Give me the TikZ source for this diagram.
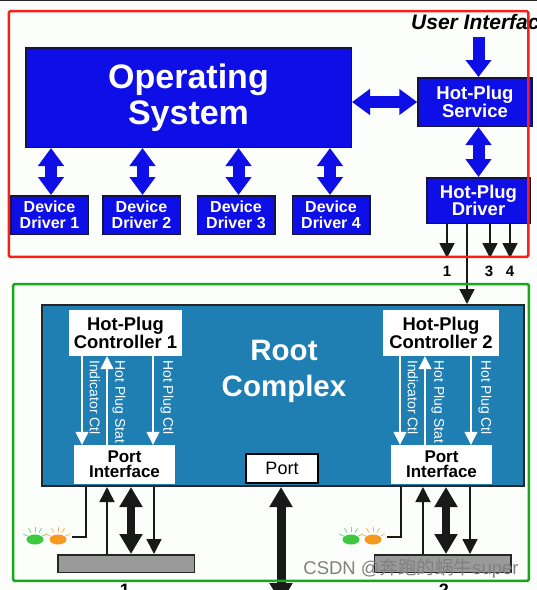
\documentclass[tikz,border=0pt]{standalone}
\usepackage{fontspec}
\setmainfont{Liberation Sans}
\newfontfamily\cjkwm{Noto Sans CJK SC}
\usepackage{xcolor}
\usetikzlibrary{positioning,arrows.meta,shapes.geometric}
\definecolor{osblue}{HTML}{0E0EE6}
\definecolor{rootblue}{HTML}{1F7FB3}
\definecolor{frameline}{HTML}{14143C}
\definecolor{slotgray}{HTML}{9A9A9A}
\definecolor{redframe}{HTML}{F5201A}
\definecolor{greenframe}{HTML}{16A81C}
\definecolor{ledgreen}{HTML}{3EC83E}
\definecolor{ledorange}{HTML}{F59A1E}
\definecolor{paper}{HTML}{FCFEFC}
\begin{document}
\begin{tikzpicture}[
    x=1pt, y=-1pt,
    bluebox/.style={rectangle, draw=frameline, line width=1.5pt, fill=osblue, text=white, align=center, inner sep=0pt, font=\fontsize{18.5}{17.5}\selectfont\bfseries},
    driver/.style={bluebox, minimum width=77.5pt, minimum height=38.5pt, font=\fontsize{16}{16}\selectfont\bfseries},
    whitebox/.style={rectangle, fill=white, text=black, align=center, inner sep=0pt, font=\fontsize{18.4}{17.5}\selectfont\bfseries},
    controller/.style={whitebox, minimum width=113pt, minimum height=46pt},
    portif/.style={whitebox, minimum width=101pt, minimum height=39pt, font=\fontsize{17}{15}\selectfont\bfseries},
    slot/.style={rectangle, draw=black!85, line width=1.5pt, fill=slotgray, minimum width=136.5pt, minimum height=17.5pt, inner sep=0pt},
    sidelabel/.style={rotate=-90, text=white, inner sep=0pt, font=\fontsize{14}{14}\selectfont},
    numlabel/.style={inner sep=0pt, font=\fontsize{15}{15}\selectfont\bfseries},
    led/.style={ellipse, minimum width=17pt, minimum height=10pt, inner sep=0pt},
    bigarrow/.style={{Triangle[length=18pt,width=25pt]}-{Triangle[length=18pt,width=25pt]}, draw=osblue, line width=12pt},
    wire/.style={-{Triangle[length=15pt,width=15pt]}, draw=black!90, line width=1.5pt},
    whitearrow/.style={-{Triangle[length=13pt,width=13pt]}, draw=white, line width=1.3pt},
    fatarrow/.style={{Triangle[length=20pt,width=22pt]}-{Triangle[length=20pt,width=22pt]}, draw=black!90, line width=8pt},
    frame/.style={rectangle, rounded corners=1.5pt, line width=2.5pt, fill=none}
]
    \useasboundingbox (0,0) rectangle (537,590);
    \clip (0,0) rectangle (537,590);
    \fill[paper] (0,0) rectangle (537,590);
    \fill[black!85] (0,0) rectangle (537,1);

    % upper part
    \node[bluebox, minimum width=325.5pt, minimum height=99.5pt, font=\fontsize{34}{36}\selectfont\bfseries] (os) at (188.5,97.5) {Operating\\System};
    \node[driver] (dd1) at (49.5,215) {Device\\Driver 1};
    \node[driver, right=13pt of dd1] (dd2) {Device\\Driver 2};
    \node[driver, right=15.5pt of dd2] (dd3) {Device\\Driver 3};
    \node[driver, right=16pt of dd3] (dd4) {Device\\Driver 4};
    \node[bluebox, minimum width=114pt, minimum height=48.5pt] (service) at (475,102) {Hot-Plug\\Service};
    \node[bluebox, minimum width=103.5pt, minimum height=45.5pt] (hpdriver) at (478.5,200.5) {Hot-Plug\\Driver};
    \node[inner sep=0pt, anchor=west, font=\fontsize{21}{21}\selectfont\bfseries\itshape] (user) at (411,22) {User Interface};

    \coordinate (uiarrow) at (478.5,37);
    \draw[bigarrow, -{Triangle[length=17pt,width=25pt]}] (uiarrow) -- (uiarrow |- service.north);
    \draw[bigarrow] (os.east |- service.west) -- (service.west);
    \draw[bigarrow] (uiarrow |- service.south) -- (uiarrow |- hpdriver.north);
    \draw[bigarrow] ([xshift=1.5pt]dd1.north) -- ([xshift=1.5pt]dd1.north |- os.south);
    \draw[bigarrow] ([xshift=1pt]dd2.north) -- ([xshift=1pt]dd2.north |- os.south);
    \draw[bigarrow] ([xshift=2.5pt]dd3.north) -- ([xshift=2.5pt]dd3.north |- os.south);
    \draw[bigarrow] ([xshift=-1pt]dd4.north) -- ([xshift=-1pt]dd4.north |- os.south);

    \node[numlabel] (n1) at (447,271) {1};
    \node[numlabel] (n3) at (489,271) {3};
    \node[numlabel] (n4) at (510,271) {4};
    \coordinate (end1) at (447,258);
    \coordinate (end3) at (490,258);
    \coordinate (end4) at (510,258);
    \draw[wire] (end1 |- hpdriver.south) -- (end1);
    \draw[wire] (end3 |- hpdriver.south) -- (end3);
    \draw[wire] (end4 |- hpdriver.south) -- (end4);

    % root complex
    \node[rectangle, draw=black!85, line width=2.2pt, fill=rootblue, minimum width=481.8pt, minimum height=180.8pt, inner sep=0pt] (root) at (283,395.5) {};
    \node[text=white, align=center, inner sep=0pt, font=\fontsize{29.5}{36}\selectfont\bfseries] (rootlabel) at (284,371) {Root\\Complex};
    \coordinate (tohp) at (467,224);
    \draw[wire] (tohp |- hpdriver.south) -- (tohp |- root.north);

    \node[controller] (hpc1) at (125.5,333) {Hot-Plug\\Controller 1};
    \node[controller, minimum width=116pt] (hpc2) at (441,333) {Hot-Plug\\Controller 2};
    \node[portif] (pi1) at (124.5,464.5) {Port\\Interface};
    \node[portif] (pi2) at (441.5,464.5) {Port\\Interface};
    \node[rectangle, draw=black, line width=2pt, fill=white, minimum width=72pt, minimum height=29pt, inner sep=0pt, font=\fontsize{18}{18}\selectfont] (port) at (282,468.5) {Port};

    \coordinate (ind1) at (82,400);
    \coordinate (stat1) at (107,400);
    \coordinate (ctl1) at (153,400);
    \coordinate (ind2) at (400,400);
    \coordinate (stat2) at (425,400);
    \coordinate (ctl2) at (471,400);
    \draw[whitearrow] (ind1 |- hpc1.south) -- (ind1 |- pi1.north);
    \draw[whitearrow] (stat1 |- pi1.north) -- (stat1 |- hpc1.south);
    \draw[whitearrow] (ctl1 |- hpc1.south) -- (ctl1 |- pi1.north);
    \draw[whitearrow] (ind2 |- hpc2.south) -- (ind2 |- pi2.north);
    \draw[whitearrow] (stat2 |- pi2.north) -- (stat2 |- hpc2.south);
    \draw[whitearrow] (ctl2 |- hpc2.south) -- (ctl2 |- pi2.north);
    \node[sidelabel] (lbind1) at (95,397.5) {Indicator Ctl};
    \node[sidelabel] (lbstat1) at (119,402) {Hot Plug Stat};
    \node[sidelabel] (lbctl1) at (167,397.5) {Hot Plug Ctl};
    \node[sidelabel] (lbind2) at (413,397.5) {Indicator Ctl};
    \node[sidelabel] (lbstat2) at (438,402) {Hot Plug Stat};
    \node[sidelabel] (lbctl2) at (485,397.5) {Hot Plug Ctl};

    % slots and lamps
    \node[slot] (slot1) at (126,563.5) {};
    \node[slot] (slot2) at (442.5,563.5) {};
    \node[numlabel, font=\fontsize{18}{18}\selectfont\bfseries] (num1) at (125,590) {1};
    \node[numlabel, font=\fontsize{18}{18}\selectfont\bfseries] (num2) at (444,590) {2};

    \node[led, fill=ledgreen] (ledg1) at (35,539.5) {};
    \node[led, fill=ledorange] (ledo1) at (58,539.5) {};
    \node[led, fill=ledgreen] (ledg2) at (351,539.5) {};
    \node[led, fill=ledorange] (ledo2) at (373,539.5) {};
    \foreach \ledname/\raycolor in {ledg1/ledgreen, ledo1/ledorange, ledg2/ledgreen, ledo2/ledorange}
        \foreach \ang in {25,60,90,120,155}
            \draw[\raycolor!70, line width=0.8pt] (\ledname.center) ++(\ang:8pt) -- ++(\ang:5pt);

    \coordinate (lamp1) at (86,537);
    \coordinate (in1) at (107,540);
    \coordinate (fat1) at (131,540);
    \coordinate (out1) at (154,540);
    \coordinate (lamp2) at (401,537);
    \coordinate (in2) at (423,540);
    \coordinate (fat2) at (446,540);
    \coordinate (out2) at (470,540);
    \draw[draw=black!90, line width=1.5pt] (lamp1 |- root.south) -- (lamp1) -- (72,537);
    \draw[draw=black!90, line width=1.5pt] (lamp2 |- root.south) -- (lamp2) -- (387,537);
    \draw[wire] (in1 |- slot1.north) -- (in1 |- root.south);
    \draw[fatarrow] (fat1 |- root.south) -- (fat1 |- slot1.north);
    \draw[wire] (out1 |- root.south) -- (out1 |- slot1.north);
    \draw[wire] (in2 |- slot2.north) -- (in2 |- root.south);
    \draw[fatarrow] (fat2 |- root.south) -- (fat2 |- slot2.north);
    \draw[wire] (out2 |- root.south) -- (out2 |- slot2.north);
    \coordinate (portend) at (281,603);
    \draw[fatarrow, line width=9pt] (portend |- root.south) -- (portend);

    % frames and mark
    \node[frame, draw=redframe, minimum width=519.5pt, minimum height=245.8pt] (upperframe) at (268.5,134) {};
    \node[frame, draw=greenframe, minimum width=515.8pt, minimum height=296.8pt] (lowerframe) at (271,432.5) {};
    \node[text=black!50, inner sep=0pt, font=\fontsize{18.5}{18.5}\selectfont] (mark) at (411,569) {CSDN @{\cjkwm 奔跑的蜗牛}super};
\end{tikzpicture}
\end{document}
